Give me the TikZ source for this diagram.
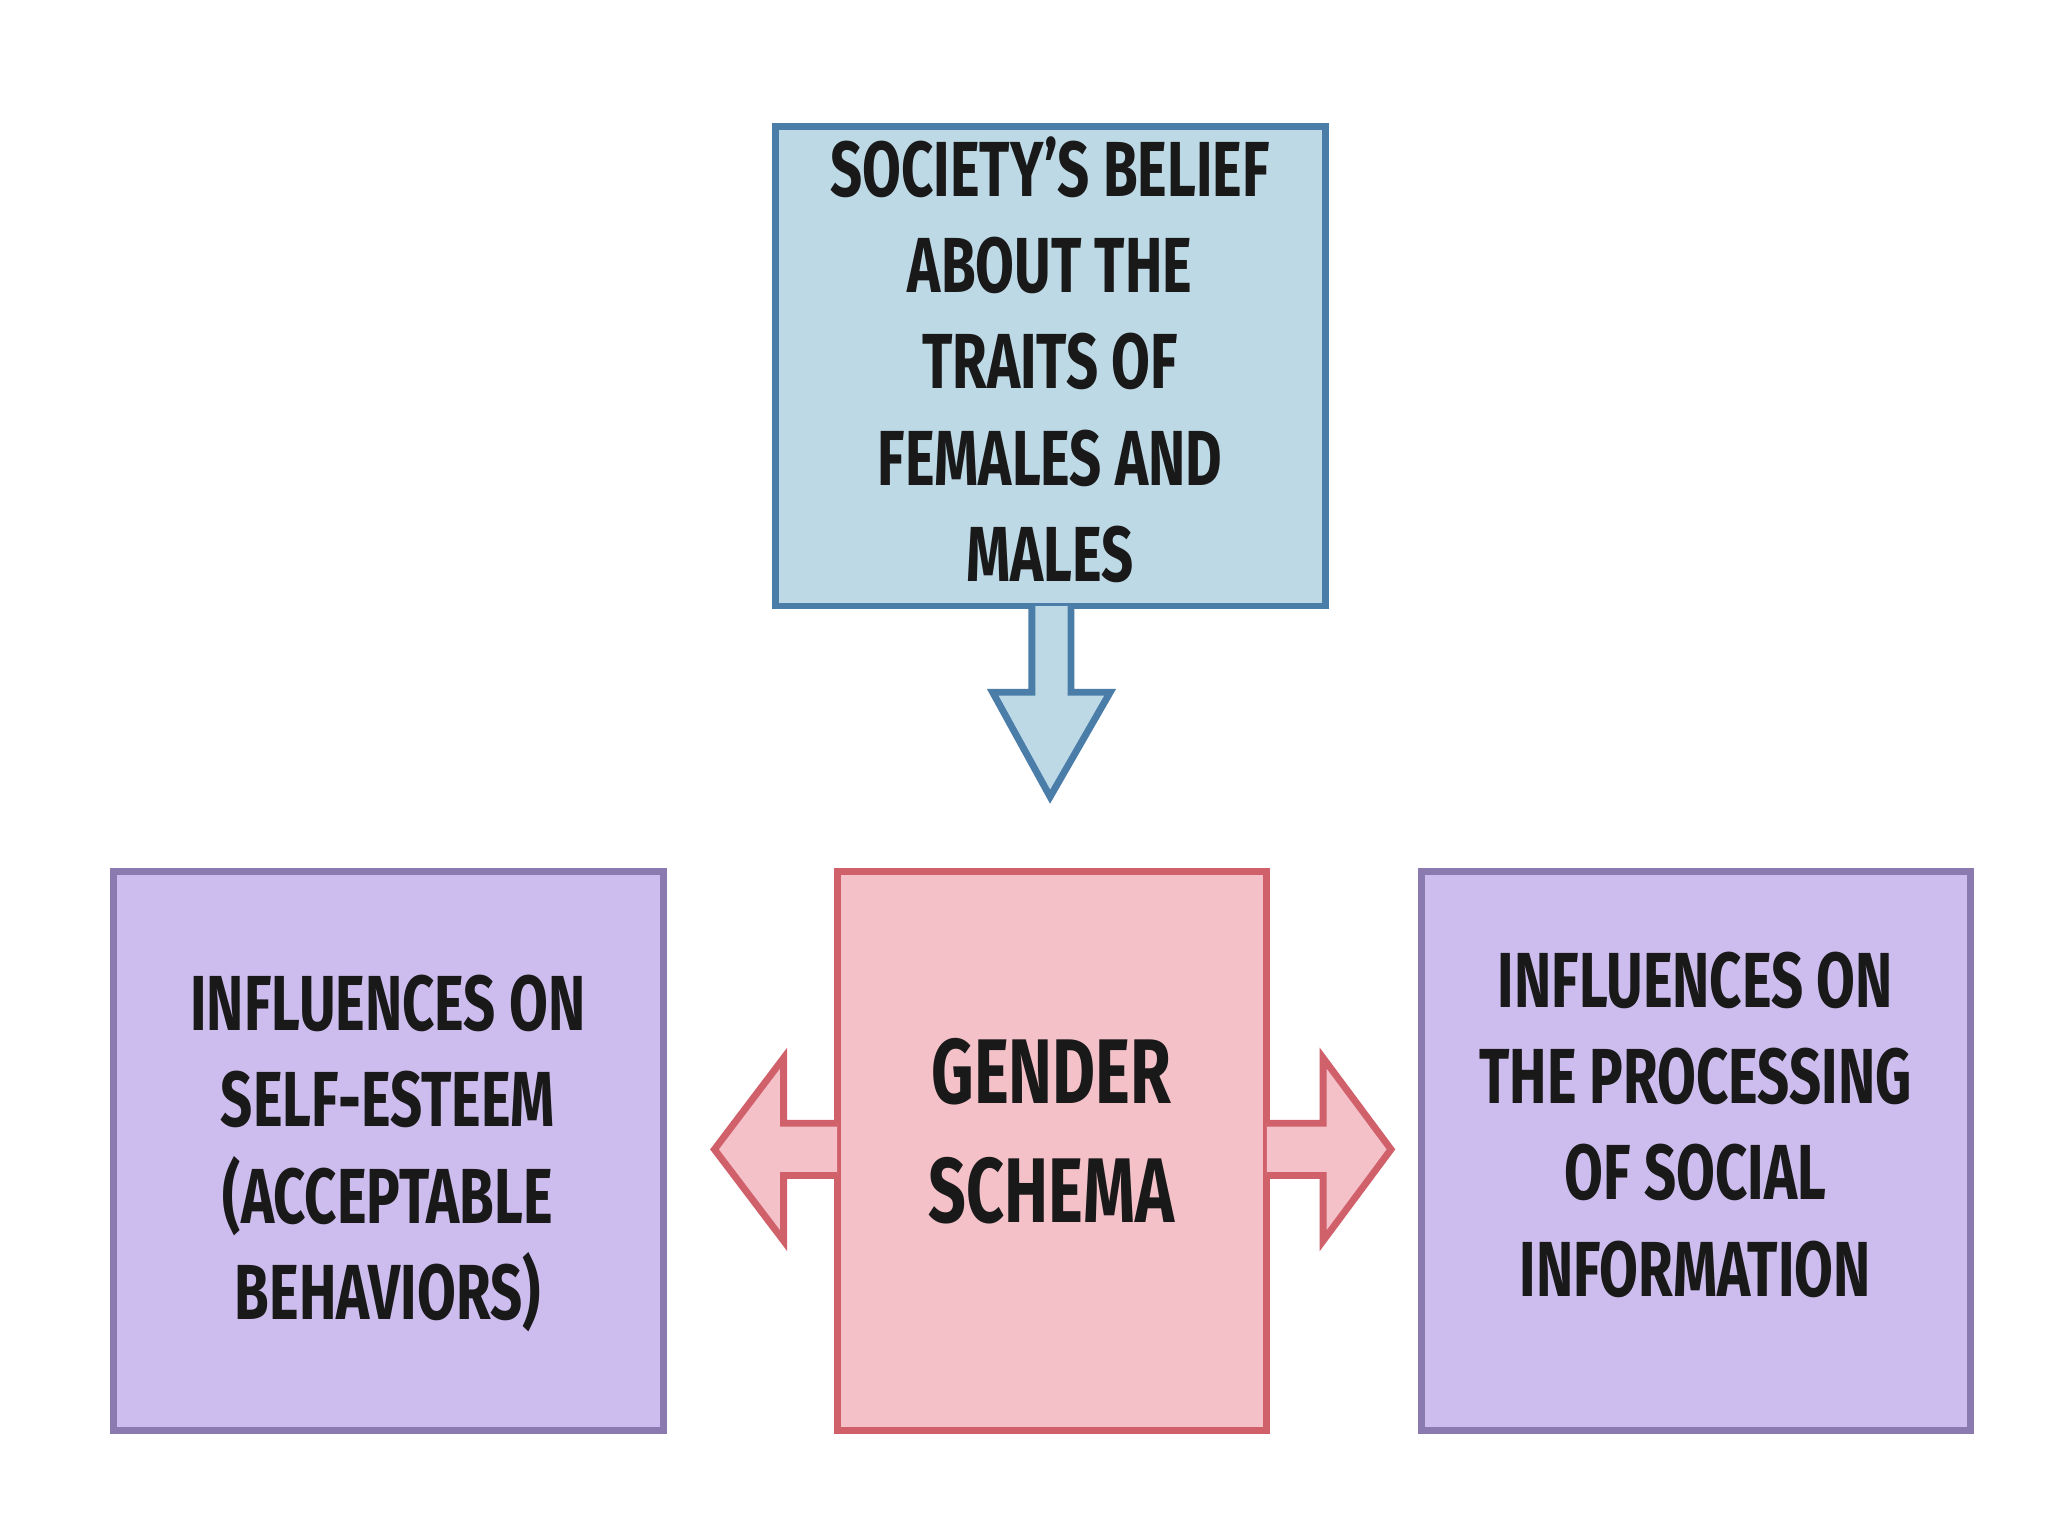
\documentclass[tikz,border=0pt]{standalone}
\usepackage{fontspec}
\setmainfont{Fira Sans}
\newcommand\nar[1]{\scalebox{0.72}[1]{\begin{tabular}{@{}c@{}}#1\end{tabular}}}
\definecolor{bfill}{HTML}{BDD9E6}\definecolor{bline}{HTML}{4A7DA8}
\definecolor{pfill}{HTML}{CDBDEE}\definecolor{pline}{HTML}{8A7AB0}
\definecolor{rfill}{HTML}{F4C1C9}\definecolor{rline}{HTML}{D0606A}
\begin{document}
\begin{tikzpicture}[x=0.01cm,y=-0.01cm,
  txt/.style={font=\bfseries\fontsize{17}{21}\selectfont,text=black!90},
  box/.style={line width=1.5pt}]
\useasboundingbox (0,0) rectangle (1568,1176);
\fill[white] (0,0) rectangle (1568,1176);
% top
\draw[box,fill=bfill,draw=bline] (594,97) rectangle (1015,464);
\node[txt] (top) at (804,283) {\nar{SOCIETY'S BELIEF\\ABOUT THE\\TRAITS OF\\FEMALES AND\\MALES}};
\draw[box,fill=bfill,draw=bline] (790,464) -- (790,530) -- (760,530) -- (804,610) -- (850,530) -- (820,530) -- (820,464);
% boxes
\draw[box,fill=pfill,draw=pline] (87,667) rectangle (508,1095);
\node[txt] (l) at (297,885) {\nar{INFLUENCES ON\\SELF-ESTEEM\\(ACCEPTABLE\\BEHAVIORS)}};
\draw[box,fill=rfill,draw=rline] (641,667) rectangle (970,1095);
\node[txt,font=\bfseries\fontsize{20}{26}\selectfont] (c) at (805,872) {\nar{GENDER\\SCHEMA}};
\draw[box,fill=pfill,draw=pline] (1088,667) rectangle (1509,1095);
\node[txt] (r) at (1298,867) {\nar{INFLUENCES ON\\THE PROCESSING\\OF SOCIAL\\INFORMATION}};
% side arrows
\draw[box,fill=rfill,draw=rline] (641,860) -- (600,860) -- (600,810) -- (547,880) -- (600,950) -- (600,900) -- (641,900);
\draw[box,fill=rfill,draw=rline] (970,860) -- (1013,860) -- (1013,810) -- (1065,880) -- (1013,950) -- (1013,900) -- (970,900);
\end{tikzpicture}
\end{document}
